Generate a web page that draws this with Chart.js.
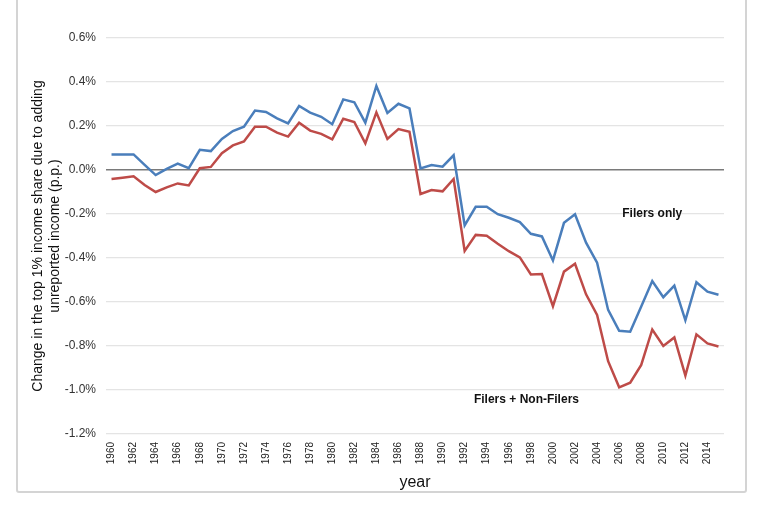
<!DOCTYPE html>
<html>
<head>
<meta charset="utf-8">
<script src="https://cdn.jsdelivr.net/npm/chart.js@4/dist/chart.umd.min.js"></script>
<style>
  html, body { margin: 0; padding: 0; background: #fff; }
  #wrap { position: relative; width: 768px; height: 514px; overflow: hidden; }
  #frame {
    position: absolute; left: 16px; top: -6px; width: 731px; height: 499px;
    border: 2px solid #d4d4d4; border-radius: 3px; box-sizing: border-box;
  }
  canvas { position: absolute; left: 0; top: 0; }
</style>
</head>
<body>
<div id="wrap">
  <div id="frame"></div>
  <canvas id="chart" width="768" height="514"></canvas>
</div>
<script>
/* DATA */
const years = [];
for (let y = 1960; y <= 2015; y++) years.push(String(y));

// change in top 1% share, percentage points
const filersOnly = [
  0.071, 0.071, 0.071, 0.023, -0.023, 0.005, 0.029, 0.008, 0.092, 0.086,
  0.141, 0.177, 0.197, 0.270, 0.264, 0.235, 0.212, 0.291, 0.261, 0.242,
  0.208, 0.321, 0.308, 0.215, 0.382, 0.259, 0.301, 0.280, 0.007, 0.023,
  0.015, 0.067, -0.252, -0.167, -0.167, -0.201, -0.217, -0.237, -0.290, -0.302,
  -0.411, -0.240, -0.201, -0.330, -0.421, -0.636, -0.731, -0.735, -0.620, -0.505,
  -0.578, -0.526, -0.683, -0.510, -0.553, -0.567
];
const filersNonFilers = [
  -0.041, -0.035, -0.029, -0.068, -0.100, -0.079, -0.061, -0.070, 0.008, 0.014,
  0.076, 0.112, 0.130, 0.197, 0.197, 0.170, 0.152, 0.215, 0.179, 0.164,
  0.139, 0.233, 0.218, 0.121, 0.262, 0.141, 0.186, 0.174, -0.109, -0.091,
  -0.097, -0.041, -0.368, -0.295, -0.299, -0.335, -0.369, -0.397, -0.475, -0.473,
  -0.619, -0.462, -0.426, -0.565, -0.659, -0.869, -0.988, -0.967, -0.886, -0.725,
  -0.800, -0.761, -0.935, -0.747, -0.788, -0.802
];

const yTitle = ["Change in the top 1% income share due to adding", "unreported income (p.p.)"];
const xTitle = "year";

// series labels drawn inside the plot: [text, category index, value]
const seriesNotes = [
  ["Filers only", 49, -0.2],
  ["Filers + Non-Filers", 37.6, -1.045]
];

/* PLUGIN: inline series labels */
const notesPlugin = {
  id: "notes",
  afterDatasetsDraw(chart) {
    const { ctx, scales } = chart;
    ctx.save();
    ctx.font = "bold 12px 'Liberation Sans', Arial, sans-serif";
    ctx.fillStyle = "#111";
    ctx.textAlign = "center";
    ctx.textBaseline = "middle";
    seriesNotes.forEach(([t, i, v]) => {
      ctx.fillText(t, scales.x.getPixelForValue(i), scales.y.getPixelForValue(v));
    });
    ctx.restore();
  }
};

const FONT = "'Liberation Sans', Arial, sans-serif";

new Chart(document.getElementById("chart"), {
  type: "line",
  data: {
    labels: years,
    datasets: [
      { label: "Filers only", data: filersOnly, borderColor: "#4a7ebb",
        borderWidth: 2.5, pointRadius: 0, tension: 0, fill: false },
      { label: "Filers + Non-Filers", data: filersNonFilers, borderColor: "#be4b48",
        borderWidth: 2.5, pointRadius: 0, tension: 0, fill: false }
    ]
  },
  options: {
    responsive: false,
    animation: false,
    events: [],
    layout: { padding: { left: 20, right: 44, top: 38, bottom: 14 } },
    plugins: { legend: { display: false }, tooltip: { enabled: false } },
    scales: {
      x: {
        type: "category",
        offset: true,
        grid: { display: false, drawTicks: false },
        border: { display: false },
        ticks: {
          autoSkip: false,
          minRotation: 90,
          maxRotation: 90,
          padding: 8,
          color: "#222",
          font: { family: FONT, size: 10 },
          callback: (v, i) => (i % 2 === 0 ? years[i] : "")
        },
        title: {
          display: true,
          text: xTitle,
          color: "#111",
          font: { family: FONT, size: 16, lineHeight: 1.2 },
          padding: { top: 0, bottom: 8 }
        },
        afterFit: (s) => { s.height = 66; }
      },
      y: {
        min: -1.2,
        max: 0.6,
        grid: {
          drawTicks: false,
          color: (c) => (c.tick && Math.abs(c.tick.value) < 1e-9 ? "#7a7a7a" : "#e4e4e4"),
          lineWidth: (c) => (c.tick && Math.abs(c.tick.value) < 1e-9 ? 1.5 : 1.2)
        },
        border: { display: false },
        ticks: {
          stepSize: 0.2,
          padding: 10,
          color: "#333",
          font: { family: FONT, size: 12 },
          callback: (v) => v.toFixed(1) + "%"
        },
        title: {
          display: true,
          text: yTitle,
          color: "#111",
          font: { family: FONT, size: 14, lineHeight: 1.2 },
          padding: { top: 9.6, bottom: 0 }
        },
        afterFit: (s) => { s.width = 86; }
      }
    }
  },
  plugins: [notesPlugin]
});
</script>
</body>
</html>
